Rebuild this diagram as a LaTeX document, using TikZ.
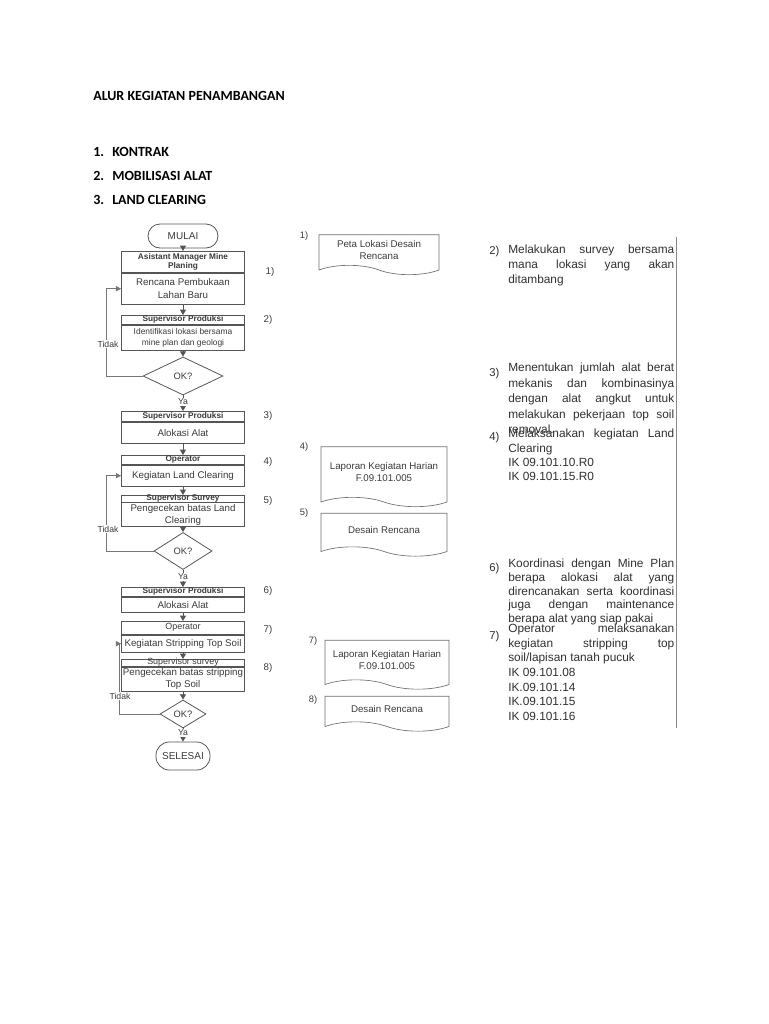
\documentclass[tikz,border=0pt]{standalone}
\usepackage{fontspec}
\setmainfont{Liberation Sans}
\newfontfamily\headfont{Carlito}
\usetikzlibrary{shapes.geometric,shapes.symbols,arrows.meta}
\definecolor{ink}{HTML}{3A3A3A}
\definecolor{rink}{HTML}{303030}
\definecolor{lnc}{HTML}{555555}
\newcommand\jl[1]{\makebox[124.5pt][s]{#1}}
\begin{document}
\begin{tikzpicture}[x=0.75pt,y=-0.75pt,
  every node/.style={inner sep=0pt},
  hdr/.style={draw=lnc, line width=0.6pt, minimum width=92.25pt, text=ink, anchor=north,
    font=\fontsize{6.2}{7.4}\selectfont\bfseries, text height=4pt, text depth=1pt, align=center},
  hdrr/.style={hdr, font=\fontsize{6.7}{7.4}\selectfont},
  bodyst/.style={draw=lnc, line width=0.6pt, minimum width=92.25pt, text=ink, anchor=north,
    font=\fontsize{7.3}{9.3}\selectfont, align=center},
  term/.style={draw=lnc, line width=0.6pt, rounded corners=9pt, text=ink,
    font=\fontsize{7.5}{9}\selectfont},
  dec/.style={diamond, draw=lnc, line width=0.6pt, text=ink, font=\fontsize{7}{8}\selectfont},
  flow/.style={draw=lnc, line width=0.7pt, -{Triangle[length=4pt,width=4.5pt]}},
  backln/.style={draw=lnc!80, line width=0.5pt, -{Triangle[length=4pt,width=4pt]}},
  lbl/.style={text=ink, font=\fontsize{6.5}{8}\selectfont, fill=white, inner sep=0.5pt},
  num/.style={text=ink, font=\fontsize{7.3}{8}\selectfont},
  docst/.style={tape, draw=lnc!85, line width=0.5pt, tape bend top=none, tape bend bottom=out and in,
    tape bend height=7pt, align=center, text=ink, font=\fontsize{7.3}{9.5}\selectfont},
  rnum/.style={text=rink, font=\fontsize{8.5}{10}\selectfont, anchor=west},
  rtxt/.style={text=rink, align=left, anchor=north west},
  headst/.style={anchor=base west, font=\headfont\fontsize{10.5}{12}\selectfont\bfseries}
]
\useasboundingbox (0,0) rectangle (768,1024);

% heading
\node[headst] (title) at (93,100) {ALUR KEGIATAN PENAMBANGAN};
\node[headst] (n1) at (93,156) {1.};
\node[headst] (k1) at (112,156) {KONTRAK};
\node[headst] (n2) at (93,180) {2.};
\node[headst] (k2) at (112,180) {MOBILISASI ALAT};
\node[headst] (n3) at (93,204) {3.};
\node[headst] (k3) at (112,204) {LAND CLEARING};

% flowchart
\node[term, minimum width=52.5pt, minimum height=18pt] (start) at (183,236) {MULAI};

\node[hdr, minimum height=15.75pt, text height={}, text depth={}] (h1) at (183,251) {Asistant Manager Mine\\Planing};
\node[bodyst, minimum height=23.25pt] (b1) at (h1.south) {Rencana Pembukaan\\Lahan Baru};

\node[hdr, minimum height=6.75pt] (h2) at (183,315) {Supervisor Produksi};
\node[bodyst, minimum height=18.75pt, font=\fontsize{6.3}{8.3}\selectfont] (b2) at (h2.south) {Identifikasi lokasi bersama\\mine plan dan geologi};

\node[dec, minimum width=60pt, minimum height=28.5pt] (d1) at (183,376) {OK?};

\node[hdr, minimum height=7.5pt] (h3) at (183,411) {Supervisor Produksi};
\node[bodyst, minimum height=15.75pt] (b3) at (h3.south) {Alokasi Alat};

\node[hdr, minimum height=6.75pt] (h4) at (183,455) {Operator};
\node[bodyst, minimum height=15.75pt] (b4) at (h4.south) {Kegiatan Land Clearing};

\node[hdr, minimum height=4.5pt] (h5) at (183,495) {Supervisor Survey};
\node[bodyst, minimum height=18pt] (b5) at (h5.south) {Pengecekan batas Land\\Clearing};

\node[dec, minimum width=43.5pt, minimum height=27.75pt] (d2) at (183,551) {OK?};

\node[hdr, minimum height=6.75pt] (h6) at (183,587) {Supervisor Produksi};
\node[bodyst, minimum height=11.25pt] (b6) at (h6.south) {Alokasi Alat};

\node[hdrr, minimum height=9.75pt] (h7) at (183,621) {Operator};
\node[bodyst, minimum height=12.75pt] (b7) at (h7.south) {Kegiatan Stripping Top Soil};

\node[hdrr, minimum height=5.25pt] (h8) at (183,659) {Supervisor survey};
\node[bodyst, minimum height=18pt] (b8) at (h8.south) {Pengecekan batas stripping\\Top Soil};

\node[dec, minimum width=34.5pt, minimum height=21pt] (d3) at (183,714) {OK?};

\node[term, minimum width=40.5pt, minimum height=21pt, rounded corners=10pt] (stop) at (183,756) {SELESAI};

% main flow
\draw[flow] (start.south) -- (h1.north);
\draw[flow] (b1.south) -- (h2.north);
\draw[flow] (b2.south) -- (d1.north);
\draw[flow] (d1.south) -- (h3.north);
\draw[flow] (b3.south) -- (h4.north);
\draw[flow] (b4.south) -- (h5.north);
\draw[flow] (b5.south) -- (d2.north);
\draw[flow] (d2.south) -- (h6.north);
\draw[flow] (b6.south) -- (h7.north);
\draw[flow] (b7.south) -- (h8.north);
\draw[flow] (b8.south) -- (d3.north);
\draw[flow] (d3.south) -- (stop.north);

% back loops
\draw[backln] (d1.west) -- ++(-36,0) |- (b1.west);
\draw[backln] (d2.west) -- ++(-47,0) |- (b4.west);
\draw[backln] (d3.west) -- ++(-40,0) |- (b7.west);

\node[lbl] (t1) at (108,344) {Tidak};
\node[lbl] (t2) at (108,529) {Tidak};
\node[lbl] (t3) at (120,696) {Tidak};
\node[lbl] (y1) at (183,402) {Ya};
\node[lbl] (y2) at (183,577) {Ya};
\node[lbl] (y3) at (183,733) {Ya};

% step numbers
\node[num] (s1) at (270,272) {1)};
\node[num] (s2) at (268,320) {2)};
\node[num] (s3) at (268,416) {3)};
\node[num] (s4) at (268,462) {4)};
\node[num] (s5) at (268,501) {5)};
\node[num] (s6) at (268,591) {6)};
\node[num] (s7) at (268,630) {7)};
\node[num] (s8) at (268,668) {8)};

% documents
\node[num, font=\fontsize{7}{8}\selectfont] (m1) at (304,236) {1)};
\node[docst, minimum width=90pt, minimum height=30pt] (p1) at (379,250) {Peta Lokasi Desain\\Rencana};
\node[num, font=\fontsize{7}{8}\selectfont] (m4) at (304,447) {4)};
\node[docst, minimum width=94.5pt, minimum height=45pt] (p4) at (384,472) {Laporan Kegiatan Harian\\F.09.101.005};
\node[num, font=\fontsize{7}{8}\selectfont] (m5) at (304,513) {5)};
\node[docst, minimum width=94.5pt, minimum height=32.25pt] (p5) at (384,530) {Desain Rencana};
\node[num, font=\fontsize{7}{8}\selectfont] (m7) at (313,641) {7)};
\node[docst, minimum width=93pt, minimum height=36.75pt] (p7) at (387,660) {Laporan Kegiatan Harian\\F.09.101.005};
\node[num, font=\fontsize{7}{8}\selectfont] (m8) at (313,700) {8)};
\node[docst, minimum width=93pt, minimum height=26.25pt] (p8) at (387,709) {Desain Rencana};

% right column
\draw[draw=lnc!70, line width=0.6pt] (676,237) -- (676,728);

\node[rnum] (r2) at (489,252) {2)};
\node[rtxt, font=\fontsize{8.9}{11.25}\selectfont] (r2t) at (508,245) {\jl{Melakukan survey bersama}\\\jl{mana lokasi yang akan}\\ditambang};

\node[rnum] (r3) at (489,374) {3)};
\node[rtxt, font=\fontsize{8.9}{11.6}\selectfont] (r3t) at (508,363) {\jl{Menentukan jumlah alat berat}\\\jl{mekanis dan kombinasinya}\\\jl{dengan alat angkut untuk}\\\jl{melakukan pekerjaan top soil}\\removal.};

\node[rnum] (r4) at (489,438) {4)};
\node[rtxt, font=\fontsize{8.9}{10.75}\selectfont] (r4t) at (508,429) {\jl{Melaksanakan kegiatan Land}\\Clearing\\IK 09.101.10.R0\\IK 09.101.15.R0};

\node[rnum] (r6) at (489,569) {6)};
\node[rtxt, font=\fontsize{8.9}{10.2}\selectfont] (r6t) at (508,559) {\jl{Koordinasi dengan Mine Plan}\\\jl{berapa alokasi alat yang}\\\jl{direncanakan serta koordinasi}\\\jl{juga dengan maintenance}\\berapa alat yang siap pakai};

\node[rnum] (r7) at (489,637) {7)};
\node[rtxt, font=\fontsize{8.9}{10.9}\selectfont] (r7t) at (508,624) {\jl{Operator melaksanakan}\\\jl{kegiatan stripping top}\\soil/lapisan tanah pucuk\\IK 09.101.08\\IK.09.101.14\\IK.09.101.15\\IK 09.101.16};
\end{tikzpicture}
\end{document}
